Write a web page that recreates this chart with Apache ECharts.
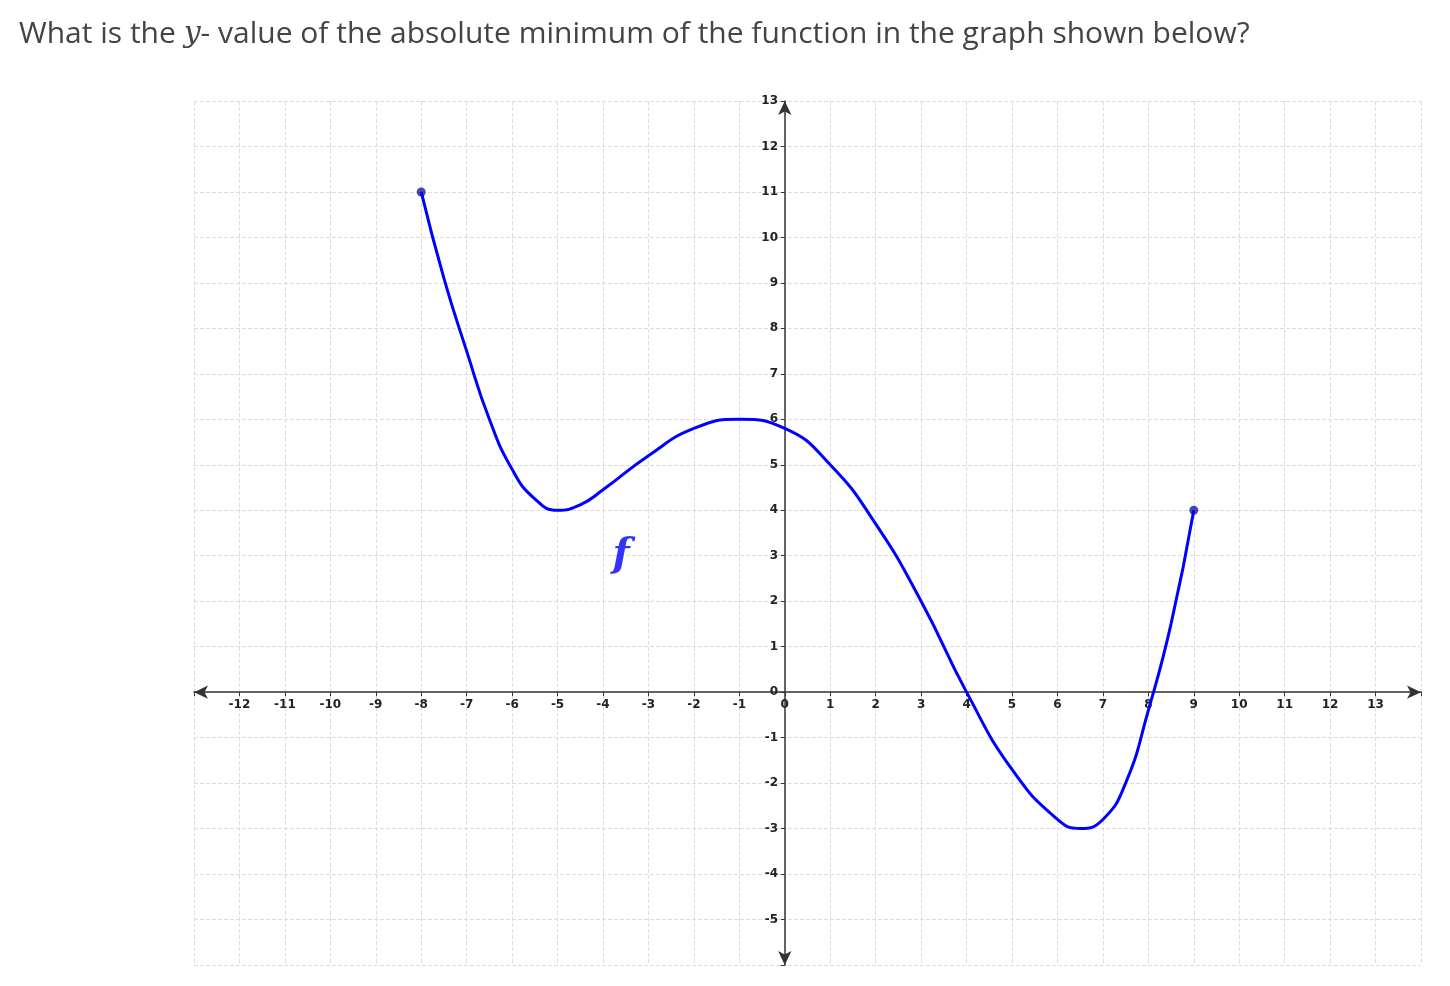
<!DOCTYPE html>
<html>
<head>
<meta charset="utf-8">
<script src="https://cdn.jsdelivr.net/npm/echarts@6/dist/echarts.min.js"></script>
<style>
  html, body { margin: 0; padding: 0; background: #fff; }
  #chart { width: 1450px; height: 986px; }
</style>
</head>
<body>
<div id="chart"></div>
<script>
// curve points
const curveX = [-8, -7.5, -7, -6.5, -6, -5.5, -5, -4.5, -4, -3, -2, -1, 0, 1, 2, 3, 4, 5, 6, 6.5, 7, 7.5, 8, 8.5, 9];
const curveY = [11, 9.1, 7.5, 6.0, 4.9, 4.25, 4.0, 4.12, 4.45, 5.2, 5.8, 6.0, 5.8, 5.0, 3.7, 2.0, 0, -1.7, -2.8, -3, -2.8, -2.0, -0.4, 1.5, 4];
const endPoints = [[-8, 11], [9, 4]];
const fLabel = [[-3.6, 3]];

const chart = echarts.init(document.getElementById('chart'));

const option = {
    backgroundColor: '#fff',
    animation: false,
    title: {
        text: 'What is the {i|y}- value of the absolute minimum of the function in the graph shown below?',
        left: 14,
        top: 14,
        textStyle: {
            fontFamily: 'Open Sans',
            fontSize: 30,
            fontWeight: 'normal',
            color: '#444',
            rich: {
                i: { fontFamily: 'DejaVu Serif', fontStyle: 'italic', fontSize: 30, color: '#444' },
            },
        },
    },
    grid: { left: 194, right: 29, top: 101, bottom: 21 },
    xAxis: {
        type: 'value',
        min: -13,
        max: 14,
        interval: 1,
        axisLine: { onZero: true, symbol: ['arrow', 'arrow'], symbolSize: [10, 14], lineStyle: { color: '#333', width: 1.5 } },
        axisTick: { show: true, length: 4, inside: false, lineStyle: { color: '#333' } },
        axisLabel: {
            color: '#222', fontSize: 12, fontWeight: 'bold', fontFamily: 'DejaVu Sans',
            margin: -266,
            formatter: v => (v === -13 || v === 14) ? '' : v,
        },
        splitLine: { show: true, lineStyle: { color: '#ddd', type: 'dashed' } },
    },
    yAxis: {
        type: 'value',
        min: -6,
        max: 13,
        interval: 1,
        axisLine: { onZero: true, symbol: ['arrow', 'arrow'], symbolSize: [10, 14], lineStyle: { color: '#333', width: 1.5 } },
        axisTick: { show: true, length: 4, lineStyle: { color: '#333' } },
        axisLabel: {
            color: '#222', fontSize: 12, fontWeight: 'bold', fontFamily: 'DejaVu Sans',
            margin: -584,
            formatter: v => v === -6 ? '' : v,
        },
        splitLine: { show: true, lineStyle: { color: '#ddd', type: 'dashed' } },
    },
    series: [
        {
            type: 'line',
            data: curveX.map((x, i) => [x, curveY[i]]),
            smooth: true,
            showSymbol: false,
            lineStyle: { color: '#0000ff', width: 3 },
        },
        {
            type: 'scatter',
            data: endPoints,
            symbolSize: 9,
            itemStyle: { color: '#1a1aa0' },
        },
        {
            type: 'scatter',
            data: fLabel,
            symbolSize: 0,
            label: {
                show: true,
                formatter: 'f',
                position: 'inside',
                fontFamily: 'DejaVu Serif',
                fontStyle: 'italic',
                fontWeight: 'bold',
                fontSize: 40,
                color: '#0000ff',
            },
        },
    ],
};

chart.setOption(option);
</script>
</body>
</html>
